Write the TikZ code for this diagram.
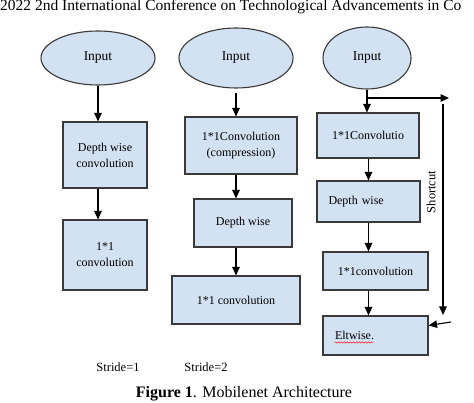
\documentclass[tikz,border=0pt]{standalone}
\usepackage{fontspec}
\setmainfont{Liberation Serif}
\usetikzlibrary{shapes.geometric,arrows.meta,decorations.pathmorphing}
\definecolor{boxblue}{HTML}{D3E2F2}
\definecolor{edgegray}{HTML}{3A3A3A}
\begin{document}
\begin{tikzpicture}[x=1pt,y=-1pt,
  box/.style = {shape=rectangle, draw=edgegray, fill=boxblue, line width=1.1pt,
    align=center, inner sep=2pt, font=\fontsize{12}{16}\selectfont},
  inp/.style = {shape=ellipse, draw=edgegray, fill=boxblue, line width=1.1pt,
    inner sep=0pt, font=\fontsize{13.5}{15}\selectfont},
  arr/.style = {draw=black, line width=1.1pt, -{Triangle[length=8.5pt,width=7.5pt]}}]
  \useasboundingbox (0,0) rectangle (474,403);
  \clip (0,0) rectangle (474,403);
  \node[anchor=west, inner sep=0pt, font=\fontsize{15.5}{18}\selectfont] (hdr) at (0,7)
    {2022 2nd International Conference on Technological Advancements in Co};
  % stride 1
  \node[inp, minimum width=114, minimum height=54] (in1) at (98,58) {Input};
  \node[box, minimum width=84, minimum height=66] (dw1) at (105,155) {Depth wise\\ convolution};
  \node[box, minimum width=84, minimum height=70] (pw1) at (105,255) {1*1\\ convolution};
  % stride 2
  \node[inp, minimum width=114, minimum height=60] (in2) at (236,58) {Input};
  \node[box, minimum width=112, minimum height=57] (cp2) at (241,145.5) {1*1Convolution\\ (compression)};
  \node[box, minimum width=98, minimum height=48] (dw2) at (243,223) {Depth wise};
  \node[box, minimum width=128, minimum height=48] (pw2) at (236,300) {1*1 convolution};
  % stride 1 with shortcut
  \node[inp, minimum width=88, minimum height=62] (in3) at (367,58) {Input};
  \node[box, minimum width=102, minimum height=45] (cp3) at (368,135.5) {1*1Convolutio};
  \node[box, minimum width=103, minimum height=41, text width=80, align=left,
    inner xsep=11.5] (dw3) at (368.5,201.5) {Depth wise};
  \node[box, minimum width=105, minimum height=38] (pw3) at (375.5,271) {1*1convolution};
  \node[box, minimum width=105, minimum height=39, text width=81, align=left,
    inner xsep=12] (ew3) at (375.5,335.5) {Eltwise.};
  \draw[red, line width=0.5pt, decorate, decoration={snake, amplitude=0.7pt, segment length=3pt}]
    ([xshift=12pt,yshift=-7pt]ew3.west) -- ++(39,0);

  \draw[arr] (in1.south) -- (in1.south |- dw1.north);
  \draw[arr] (dw1.south -| in1.south) -- (in1.south |- pw1.north);
  \draw[arr] ([yshift=-4pt]in2.south) -- (in2.south |- cp2.north);
  \draw[arr] (cp2.south -| in2.south) -- (in2.south |- dw2.north);
  \draw[arr] (dw2.south -| in2.south) -- (in2.south |- pw2.north);
  \draw[arr] (in3.south) -- (in3.south |- cp3.north);
  \draw[arr] (cp3.south -| dw3.north) -- (dw3.north);
  \draw[arr] (dw3.south) -- (dw3.south |- pw3.north);
  \draw[arr] (pw3.south -| dw3.south) -- (dw3.south |- ew3.north);

  % shortcut
  \coordinate (sc0) at (367,98);
  \coordinate (sc1) at (449,98);
  \coordinate (sc2) at (443,104);
  \coordinate (sc3) at (443,315);
  \coordinate (sc4) at (451,322);
  \draw[arr] (sc0) -- (sc1);
  \draw[arr] (sc2) -- (sc3);
  \draw[arr] (sc4) -- ([yshift=10pt]ew3.east);
  \node[rotate=90, font=\fontsize{12.5}{14}\selectfont] (sct) at (431,192) {Shortcut};

  \node[font=\fontsize{12.5}{14}\selectfont] (st1) at (118,367) {Stride=1};
  \node[font=\fontsize{12.5}{14}\selectfont] (st2) at (206,367) {Stride=2};
  \node[font=\fontsize{16}{18}\selectfont] (cap) at (244,394) {\textbf{Figure 1}. Mobilenet Architecture};
\end{tikzpicture}
\end{document}
